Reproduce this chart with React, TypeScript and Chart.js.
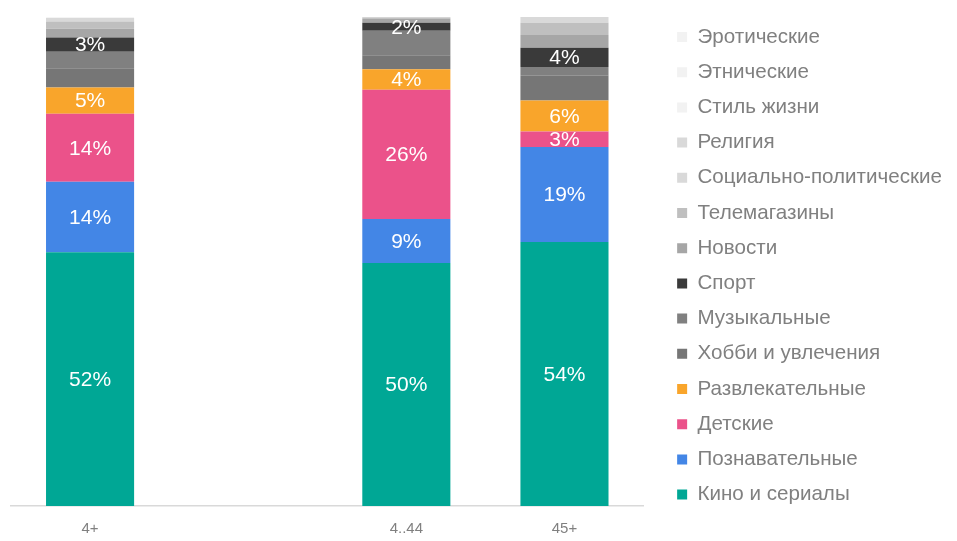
import React, { useEffect, useRef } from 'react';
import { Chart, registerables } from 'chart.js';

Chart.register(...registerables);

const categories = ['4+', '', '4..44', '45+'];

const kino = [51.9, null, 49.7, 54.0];
const poznavatelnye = [14.4, null, 9.0, 19.4];
const detskie = [13.9, null, 26.4, 3.2];
const razvlekatelnye = [5.4, null, 4.2, 6.3];
const hobbi = [3.9, null, 2.9, 5.1];
const muzykalnye = [3.4, null, 5.0, 1.8];
const sport = [2.9, null, 1.6, 3.9];
const novosti = [1.8, null, 0.9, 2.6];
const telemagaziny = [1.5, null, 0.2, 2.5];
const socPolit = [0.5, null, 0.1, 0.8];
const religiya = [0.2, null, 0.0, 0.4];
const stilZhizni = [0.1, null, 0.0, 0.0];
const etnicheskie = [0.0, null, 0.0, 0.0];
const eroticheskie = [0.1, null, 0.0, 0.0];

const seriesNames = [
  'Кино и сериалы',
  'Познавательные',
  'Детские',
  'Развлекательные',
  'Хобби и увлечения',
  'Музыкальные',
  'Спорт',
  'Новости',
  'Телемагазины',
  'Социально-политические',
  'Религия',
  'Стиль жизни',
  'Этнические',
  'Эротические',
];
const seriesValues = [
  kino, poznavatelnye, detskie, razvlekatelnye, hobbi, muzykalnye, sport,
  novosti, telemagaziny, socPolit, religiya, stilZhizni, etnicheskie, eroticheskie,
];
const seriesColors = [
  '#00a795', '#4386e6', '#eb528a', '#f9a52b', '#767676', '#808080', '#3a3a3a',
  '#a6a6a6', '#bfbfbf', '#d9d9d9', '#d9d9d9', '#f2f2f2', '#f2f2f2', '#f2f2f2',
];
const labeledSeries = ['Кино и сериалы', 'Познавательные', 'Детские', 'Развлекательные', 'Спорт'];

const FONT = "'Liberation Sans', Arial, sans-serif";

const valueLabels = {
  id: 'valueLabels',
  afterDatasetsDraw(chart: any) {
    const ctx = chart.ctx;
    ctx.save();
    ctx.fillStyle = '#ffffff';
    ctx.font = `21px ${FONT}`;
    ctx.textAlign = 'center';
    ctx.textBaseline = 'middle';
    chart.data.datasets.forEach((ds: any, di: number) => {
      if (!labeledSeries.includes(ds.label)) return;
      const meta = chart.getDatasetMeta(di);
      meta.data.forEach((el: any, i: number) => {
        const v = ds.data[i];
        if (v == null || v <= 0) return;
        const p = el.getProps(['x', 'y', 'base'], true);
        ctx.fillText(`${Math.round(v)}%`, p.x, (p.y + p.base) / 2 + 1);
      });
    });
    ctx.restore();
  },
};

export default function App() {
  const ref = useRef<HTMLCanvasElement>(null);
  useEffect(() => {
    if (!ref.current) return;
    const chart = new Chart(ref.current, {
      type: 'bar',
      data: {
        labels: categories,
        datasets: seriesNames.map((name, i) => ({
          label: name,
          data: seriesValues[i],
          backgroundColor: seriesColors[i],
          borderWidth: 0,
          barPercentage: 1,
          categoryPercentage: 0.557,
        })),
      },
      options: {
        responsive: false,
        animation: false,
        layout: { padding: { top: 4.1, left: 3, right: -3, bottom: 0 } },
        scales: {
          x: {
            stacked: true,
            grid: { display: false, drawTicks: false },
            border: { display: true, color: '#d9d9d9', width: 1.5 },
            ticks: { color: '#808080', font: { family: FONT, size: 15 }, padding: 14 },
            afterFit: (s: any) => { s.height = 27; },
          },
          y: { stacked: true, display: false, min: 0, max: 100 },
          y2: {
            position: 'right',
            display: true,
            grid: { display: false },
            border: { display: false },
            ticks: { display: false },
            afterFit: (s: any) => { s.width = 19; },
          },
        },
        plugins: {
          title: { display: true, text: '', padding: 0, font: { size: 4.9, lineHeight: 1 } },
          tooltip: { enabled: false },
          legend: {
            position: 'right',
            align: 'start',
            reverse: true,
            maxWidth: 500,
            labels: {
              boxWidth: 10,
              boxHeight: 10,
              padding: 14.6,
              color: '#808080',
              font: { family: FONT, size: 20.6 },
            },
          },
        },
      },
      plugins: [valueLabels],
    });
    return () => chart.destroy();
  }, []);
  return <canvas ref={ref} width={941} height={525} style={{ display: 'block' }} />;
}
